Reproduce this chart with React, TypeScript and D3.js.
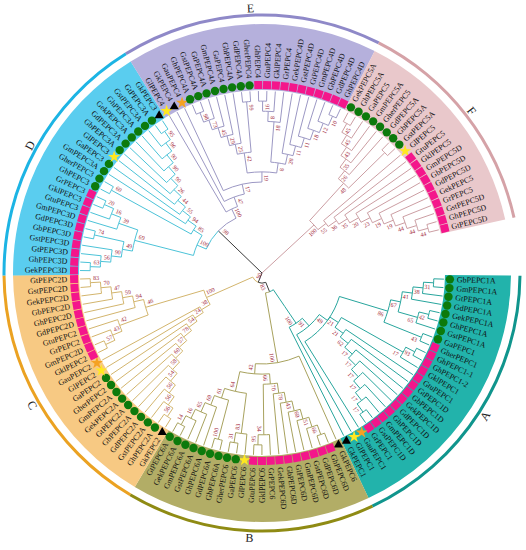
import * as d3 from "d3";

// clade order runs clockwise, starting at A (east)
const cladeNames = ["A", "B", "C", "D", "E", "F"];

const treeA =
  "(((((((((((GbPEPC1A,GmPEPC1A)31,GtPEPC1A)38,GdPEPC1A)41,((GekPEPC1A,GhPEPC1A)42,GstPEPC1A)65)67,(GaPEPC1,GherPEPC1)43)86," +
  "(((GhPEPC1-1,GhPEPC1-2)93,GklPEPC1)17,(GtuPEPC1,(GtPEPC1D,(GbPEPC1D,(GekPEPC1D,(GdPEPC1D,(GhPEPC1D,(GmPEPC1D,(GstPEPC1D,GrPEPC1)17)17)17)17)17)17)62)21)21," +
  "GauPEPC1)49,GlPEPC1)91,GkPEPC1)100)";
const treeB =
  "(GkPEPC6,((((((((GhPEPC6D,GdPEPC6D)66,GstPEPC6D)51,GmPEPC6D)60,GtPEPC6D)43,GbPEPC6D)78,GekPEPC6D)70,(GrPEPC6,(GklPEPC6,GtuPEPC6)95)34)66," +
  "((GlPEPC6,(GaPEPC6,GherPEPC6)31)83,((GbPEPC6A,GdPEPC6A)100,(GhPEPC6A,(GstPEPC6A,(GmPEPC6A,(GekPEPC6A,GtPEPC6A)14)16)65)69)61)64)42)100";
const treeC =
  "((((((((((((GkPEPC2,GhPEPC2A)56,GstPEPC2A)56,GdPEPC2A)56,GbPEPC2A)54,GtPEPC2A)58,GekPEPC2A)60,GmPEPC2A)57,GherPEPC2)78,GaPEPC2)54,GlPEPC2)24,GauPEPC2)38," +
  "((((GklPEPC2,GmPEPC2D)57,GrPEPC2)43,GtuPEPC2)42,(GdPEPC2D,(GhPEPC2D,(GbPEPC2D,(GekPEPC2D,(GstPEPC2D,GtPEPC2D)83)70)47)59)94)46)100";
const treeD =
  "((((((GekPEPC3D,GhPEPC3D)63,GtPEPC3D)56,GstPEPC3D)90,(GbPEPC3D,GdPEPC3D)74)49,(GmPEPC3D,(GtuPEPC3,(GklPEPC3,GrPEPC3)20)16)39)69," +
  "((GhPEPC3,GherPEPC3)60,(GmPEPC3A,(GaPEPC3,(GlPEPC3,(GbPEPC3A,(GdPEPC3A,(GekPEPC3A,(GhPEPC3A,(GstPEPC3A,(GtPEPC3A,GkPEPC3)95)96)90)90)90)26)44)55)94)85)100";
const treeE =
  "(GlPEPC4,(GkPEPC4,(GauPEPC4,(((((((GhPEPC4A,GstPEPC4A)98,GtPEPC4A)73,GmPEPC4A)45,GaPEPC4)29,GbPEPC4A)25,(GdPEPC4A,GherPEPC4)99)42," +
  "((((GhPEPC4,GtuPEPC4)16,GklPEPC4)8,GrPEPC4)18,(GekPEPC4D,(GstPEPC4D,(GtPEPC4D,(GmPEPC4D,(GbPEPC4D,(GdPEPC4D,GhPEPC4D)10)12)18)11)11)28)8)19)17)47)100";
const treeF =
  "(((((((GekPEPC5A,GhPEPC5A)45,GaPEPC5)45,GmPEPC5A)43,GherPEPC5)35,GdPEPC5A)26,(GbPEPC5A,GstPEPC5A))48," +
  "(GlPEPC5,(GtuPEPC5,(GklPEPC5,(GmPEPC5D,(GbPEPC5D,(GdPEPC5D,(GekPEPC5,(GrPEPC5,(GstPEPC5D,(GhPEPC5D,GtPEPC5D)44)44)44)19)19)23)20)35)36)55)100";
const cladeTrees = [treeA, treeB, treeC, treeD, treeE, treeF];

// leaf markers in leaf order: g circle, p square, y yellow star, o orange star, t triangle
const markersA = "gggggggg" + "ppppppppppppp" + "oyt";
const markersB = "t" + "pppppppppp" + "y" + "ggggggggg";
const markersC = "t" + "ggggggggg" + "yo" + "pppppppppp";
const markersD = "pppppppppp" + "gggg" + "y" + "gggggg" + "t";
const markersE = "yto" + "gggggggg" + "ppppppppppp";
const markersF = "gggggggg" + "y" + "pppppppppp";
const cladeMarkers = [markersA, markersB, markersC, markersD, markersE, markersF];

// support values on the backbone
const abSupport = "83";
const abcSupport = "90";
const deSupport = "98";

const bandColor: Record<string, string> = {
  A: "#22b3ab", B: "#b2ad66", C: "#f7c983", D: "#5acdef", E: "#b5b0dc", F: "#e9c8cb",
};
const arcColor: Record<string, string> = {
  A: "#10958d", B: "#8f8b14", C: "#eba222", D: "#1cb4e4", E: "#8f89c8", F: "#d5a2a7",
};
const lineColor: Record<string, string> = {
  A: "#27a59d", B: "#a8a25e", C: "#d3b56d", D: "#4cc3d8", E: "#9c98c4", F: "#cc9ea3",
};
const markerColor: Record<string, string> = {
  g: "#0c7a0c", p: "#f4168b", y: "#ffe820", o: "#f5a223", t: "#000",
};

type TNode = { name?: string; label?: string; clade?: string; marker?: string; children?: TNode[] };

function parseNewick(src: string): TNode {
  const s = src.replace(/\s+/g, "").replace(/;$/, "");
  let i = 0;
  const token = () => {
    const m = /^[^,();]*/.exec(s.slice(i));
    const t = m ? m[0] : "";
    i += t.length;
    return t;
  };
  const read = (): TNode => {
    if (s[i] === "(") {
      i++;
      const children = [read()];
      while (s[i] === ",") { i++; children.push(read()); }
      i++;
      const label = token();
      return { children, label: label || undefined };
    }
    return { name: token() };
  };
  return read();
}

const W = 526, H = 550;
const CX = 262, CY = 273;
const R_LEAF = 182, R_MARK = 188, R_TEXT = 195;
const BAND_IN = 183, BAND_OUT = 249, R_ARC = 258, R_LETTER = 265;
const START = 90.6, STEP = 2.69;

const rad = (a: number) => (a * Math.PI) / 180;
const pt = (a: number, r: number): [number, number] => [r * Math.sin(rad(a)), -r * Math.cos(rad(a))];
const norm = (a: number) => ((a % 360) + 360) % 360;

function buildTree() {
  const clades = cladeNames.map((c, i) => {
    const t = parseNewick(cladeTrees[i]);
    let k = 0;
    const walk = (n: TNode) => {
      n.clade = c;
      if (n.children) n.children.forEach(walk);
      else n.marker = cladeMarkers[i][k++];
    };
    walk(t);
    return t;
  });
  const data: TNode = {
    children: [
      { label: abcSupport, children: [{ label: abSupport, children: [clades[0], clades[1]] }, clades[2]] },
      { label: deSupport, children: [clades[3], clades[4]] },
      clades[5],
    ],
  };
  const root = d3.hierarchy<TNode>(data);
  const n = root.leaves().length;
  d3.cluster<TNode>().size([STEP * (n - 1), R_LEAF]).separation(() => 1)(root);
  return root as d3.HierarchyPointNode<TNode>;
}

function elbow(s: d3.HierarchyPointNode<TNode>, t: d3.HierarchyPointNode<TNode>) {
  const a0 = START + s.x, a1 = START + t.x, r0 = s.y, r1 = t.y;
  const [x0, y0] = pt(a0, r0), [x1, y1] = pt(a1, r0), [x2, y2] = pt(a1, r1);
  const large = Math.abs(a1 - a0) > 180 ? 1 : 0;
  const sweep = a1 > a0 ? 1 : 0;
  return `M${x0},${y0}A${r0},${r0} 0 ${large} ${sweep} ${x1},${y1}L${x2},${y2}`;
}

export default function App() {
  const root = buildTree();
  const leaves = root.leaves();
  const arc = d3.arc();

  const cladeSpans = cladeNames.map((c) => {
    const ls = leaves.filter((l) => l.data.clade === c);
    const a0 = START + ls[0].x - STEP / 2;
    const a1 = START + ls[ls.length - 1].x + STEP / 2;
    return { c, a0, a1 };
  });

  const star = d3.symbol(d3.symbolStar, 46)()!;
  const tri = d3.symbol(d3.symbolTriangle, 36)()!;

  return (
    <svg width={W} height={H} style={{ position: "absolute", left: 0, top: 0, background: "#fff" }}
      fontFamily='"Times New Roman", "Liberation Serif", serif'>
      <g transform={`translate(${CX},${CY})`}>
        {cladeSpans.map(({ c, a0, a1 }) => (
          <g key={c}>
            <path d={arc({ innerRadius: BAND_IN, outerRadius: BAND_OUT, startAngle: rad(a0), endAngle: rad(a1) })!}
              fill={bandColor[c]} />
            <path d={arc({ innerRadius: R_ARC - 1.5, outerRadius: R_ARC + 1.5, startAngle: rad(a0), endAngle: rad(a1) })!}
              fill={arcColor[c]} />
            {(() => {
              const m = (a0 + a1) / 2;
              const [x, y] = pt(m, R_LETTER);
              const nm = norm(m);
              const rot = nm > 90 && nm < 270 ? nm - 180 : nm;
              return (
                <text x={x} y={y} transform={`rotate(${rot},${x},${y})`} textAnchor="middle" dy="0.35em"
                  fontSize={12} fill="#222">{c}</text>
              );
            })()}
          </g>
        ))}

        {root.links().map((l, i) => (
          <path key={i} d={elbow(l.source, l.target)} fill="none"
            stroke={l.target.data.clade ? lineColor[l.target.data.clade] : "#3a3a3a"} strokeWidth={1} />
        ))}

        {root.descendants().filter((d) => d.children && d.data.label).map((d, i) => {
          const a = START + d.x;
          const r = d.y - 6;
          const off = (4.5 / Math.max(r, 10)) * (180 / Math.PI);
          const [x, y] = pt(a + off, r);
          const na = norm(a);
          const rot = na < 180 ? na - 90 : na + 90;
          return (
            <text key={i} x={x} y={y} transform={`rotate(${rot},${x},${y})`} textAnchor="middle" dy="0.35em"
              fontSize={6} fill="#a3293b">{d.data.label}</text>
          );
        })}

        {leaves.map((l, i) => {
          const a = START + l.x;
          const [mx, my] = pt(a, R_MARK);
          const [tx, ty] = pt(a, R_TEXT);
          const na = norm(a);
          const right = na < 180;
          const rot = right ? na - 90 : na + 90;
          const mk = l.data.marker || "g";
          let marker;
          if (mk === "g") marker = <circle cx={mx} cy={my} r={4.2} fill={markerColor.g} />;
          else if (mk === "p")
            marker = <rect x={mx - 4} y={my - 4} width={8} height={8} fill={markerColor.p}
              transform={`rotate(${na},${mx},${my})`} />;
          else if (mk === "t") marker = <path d={tri} transform={`translate(${mx},${my})`} fill={markerColor.t} />;
          else marker = <path d={star} transform={`translate(${mx},${my})`} fill={markerColor[mk]} />;
          return (
            <g key={i}>
              {marker}
              <text x={tx} y={ty} transform={`rotate(${rot},${tx},${ty})`} textAnchor={right ? "start" : "end"}
                dy="0.33em" fontSize={8} fill="#111">{l.data.name}</text>
            </g>
          );
        })}
      </g>
    </svg>
  );
}
